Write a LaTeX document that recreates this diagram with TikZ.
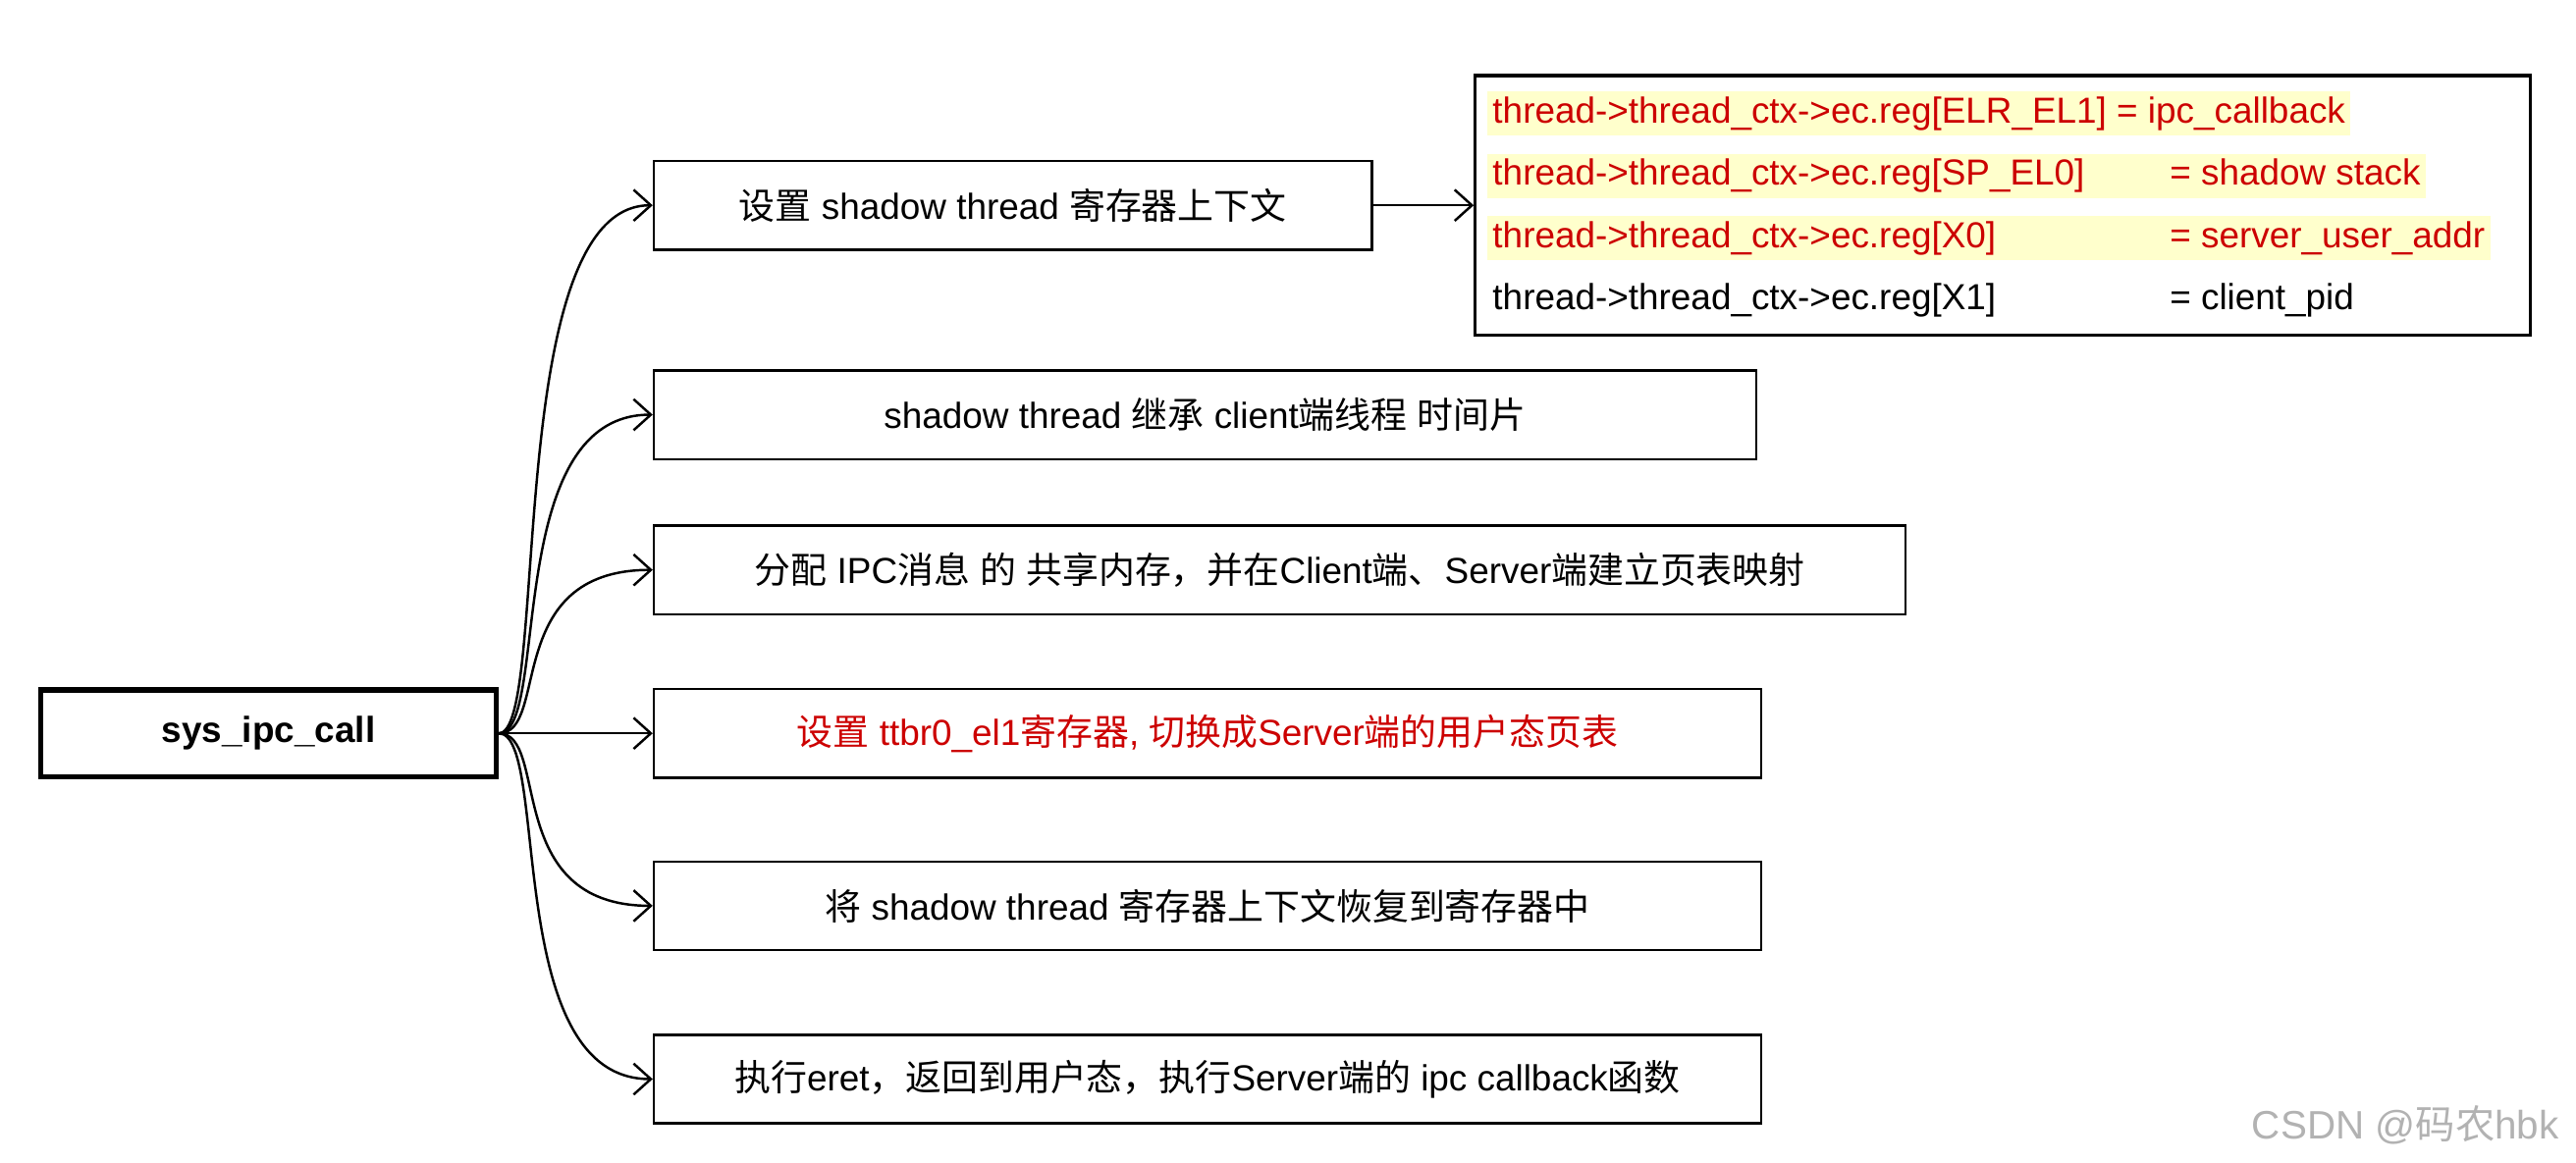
\documentclass[tikz,border=0pt]{standalone}
\usepackage{fontspec}
\setmainfont{Liberation Sans}
\newfontfamily\cjk{Noto Sans CJK SC}
\newcommand\zh[1]{{\cjk #1}}
\usetikzlibrary{arrows.meta}
\definecolor{rd}{HTML}{CC0000}
\definecolor{hl}{HTML}{FFFFCC}
\begin{document}
\begin{tikzpicture}[x=0.016735cm,y=-0.016735cm,
  box/.style={draw,line width=0.7pt,minimum height=54*0.016735cm,inner sep=0pt,font=\fontsize{10.5}{12}\selectfont},
  ln/.style={anchor=west,inner sep=1.5pt,font=\fontsize{10.5}{12}\selectfont},
  con/.style={line width=0.7pt,-{Straight Barb[length=5pt,width=9pt]}}]
\useasboundingbox (0,0) rectangle (1568,708);
\node[box,line width=1.5pt,minimum width=277*0.016735cm,minimum height=53*0.016735cm,font=\fontsize{10.5}{12}\selectfont\bfseries] (m) at (163.5,446.5) {sys\_ipc\_call};
\node[box,minimum width=437*0.016735cm] (b1) at (616.5,125) {\zh{设置} shadow thread \zh{寄存器上下文}};
\node[box,minimum width=671*0.016735cm] (b2) at (733.5,252.5) {shadow thread \zh{继承} client\zh{端线程} \zh{时间片}};
\node[box,minimum width=762*0.016735cm] (b3) at (779,347) {\zh{分配} IPC\zh{消息} \zh{的} \zh{共享内存，并在}Client\zh{端、}Server\zh{端建立页表映射}};
\node[box,minimum width=674*0.016735cm,text=rd] (b4) at (735,446.5) {\zh{设置} ttbr0\_el1\zh{寄存器}, \zh{切换成}Server\zh{端的用户态页表}};
\node[box,minimum width=674*0.016735cm] (b5) at (735,551.5) {\zh{将} shadow thread \zh{寄存器上下文恢复到寄存器中}};
\node[box,minimum width=674*0.016735cm] (b6) at (735,657) {\zh{执行}eret\zh{，返回到用户态，执行}Server\zh{端的} ipc callback\zh{函数}};
\node[draw,line width=0.9pt,minimum width=642*0.016735cm,minimum height=158*0.016735cm,inner sep=0pt] (r) at (1219,125) {};
\node[ln,fill=hl,text=rd] (l1) at (905,69) {thread->thread\_ctx->ec.reg[ELR\_EL1] = ipc\_callback};
\node[ln,fill=hl,text=rd] (l2) at (905,107) {\makebox[6.9cm][l]{thread->thread\_ctx->ec.reg[SP\_EL0]}= shadow stack};
\node[ln,fill=hl,text=rd] (l3) at (905,145) {\makebox[6.9cm][l]{thread->thread\_ctx->ec.reg[X0]}= server\_user\_addr};
\node[ln] (l4) at (905,183) {\makebox[6.9cm][l]{thread->thread\_ctx->ec.reg[X1]}= client\_pid};
\draw[con] (b1.east) -- (r.west |- b1.east);
\foreach \b in {b1,b2,b3,b4,b5,b6}
  \draw[con] (m.east) .. controls (335,446.5) and (305,0 |- \b.west) .. (\b.west);
\node[text=black!30,font=\fontsize{11.5}{13}\selectfont,anchor=east] (w) at (1565,685) {CSDN @\zh{码农}hbk};
\end{tikzpicture}
\end{document}
